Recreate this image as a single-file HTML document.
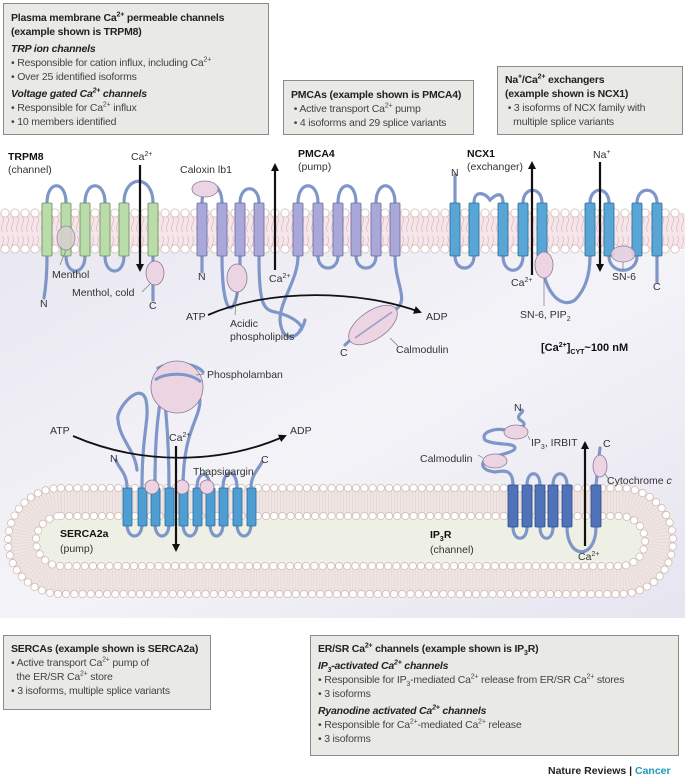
<!DOCTYPE html>
<html><head><meta charset="utf-8"><style>
body{margin:0;width:685px;height:780px;position:relative;background:#fff;font-family:"Liberation Sans",sans-serif;overflow:hidden}
.box{position:absolute;background:#e9e9e5;border:1px solid #8a8a8a;box-sizing:border-box;padding:6px 7px;font-size:10.5px;letter-spacing:-0.2px;line-height:14px;color:#444;white-space:nowrap;overflow:hidden}
.box b{color:#222}
.box .h{font-weight:bold;font-style:italic;color:#222;margin-top:3px}
svg{position:absolute;left:0;top:0}
sup{font-size:7px;line-height:0}
sub{font-size:7px;line-height:0}
</style></head><body>
<svg width="685" height="780" viewBox="0 0 685 780" font-family="Liberation Sans, sans-serif" font-size="10.5" fill="#333">
<defs>
<linearGradient id="cyt" x1="0" y1="0" x2="1" y2="1"><stop offset="0" stop-color="#e9e8f1"/><stop offset="0.5" stop-color="#f4f3f8"/><stop offset="1" stop-color="#e6e5f0"/></linearGradient>
<pattern id="tails" width="5" height="36" patternUnits="userSpaceOnUse"><rect width="5" height="36" fill="#f5e6ea"/><path d="M2.5,0 q2,4 0,8 q-2,4 0,8 M2.5,20 q2,4 0,8 q-2,4 0,8" stroke="#e3b9c6" stroke-width="0.8" fill="none"/></pattern>
<marker id="ah" markerWidth="8" markerHeight="8" refX="6" refY="4" orient="auto" markerUnits="userSpaceOnUse"><path d="M0,0 L8,4 L0,8 z" fill="#111"/></marker>
</defs>
<rect x="0" y="250" width="685" height="368" fill="url(#cyt)"/>
<rect x="0" y="213" width="685" height="36" fill="url(#tails)"/>
<line x1="5" y1="213" x2="685" y2="213" stroke="#cdb5ac" stroke-width="9" stroke-linecap="round" stroke-dasharray="0 10"/>
<line x1="5" y1="213" x2="685" y2="213" stroke="#fff" stroke-width="7.6" stroke-linecap="round" stroke-dasharray="0 10"/>
<line x1="5" y1="249" x2="685" y2="249" stroke="#cdb5ac" stroke-width="9" stroke-linecap="round" stroke-dasharray="0 10"/>
<line x1="5" y1="249" x2="685" y2="249" stroke="#fff" stroke-width="7.6" stroke-linecap="round" stroke-dasharray="0 10"/>
<rect x="22" y="502" width="637" height="78" rx="39" fill="none" stroke="#efe6e4" stroke-width="28"/>
<rect x="22" y="502" width="637" height="78" rx="39" fill="none" stroke="#e2d2d0" stroke-width="28" stroke-dasharray="1 2" opacity="0.6"/>
<rect x="36" y="516" width="609" height="50" rx="25" fill="#eef0e6"/>
<rect x="8" y="488" width="665" height="106" rx="53" fill="none" stroke="#cdb5ac" stroke-width="8" stroke-dasharray="0 8.2" stroke-linecap="round"/>
<rect x="8" y="488" width="665" height="106" rx="53" fill="none" stroke="#fff" stroke-width="6.6" stroke-dasharray="0 8.2" stroke-linecap="round"/>
<rect x="36" y="516" width="609" height="50" rx="25" fill="none" stroke="#cdb5ac" stroke-width="8" stroke-dasharray="0 8.2" stroke-linecap="round"/>
<rect x="36" y="516" width="609" height="50" rx="25" fill="none" stroke="#fff" stroke-width="6.6" stroke-dasharray="0 8.2" stroke-linecap="round"/>

<g fill="none" stroke="#7e96c8" stroke-width="3.2" stroke-linecap="round">
<path d="M44,298 Q47,280 47,256 M47,203 C47,180 66,180 66,203 M66,256 C66,276 85,276 85,256 M85,203 C85,180 105,180 105,203 M105,256 C105,276 124,276 124,256 M124,203 C124,174 153,174 153,203 M153,256 L153,300"/>
<path d="M202,256 L202,272 M202,203 C202,178 222,180 222,203 M222,256 C222,330 240,320 240,256 M240,203 C240,184 259,184 259,203 M259,256 C259,300 262,310 275,312 C300,318 305,330 300,330 M298,256 C298,280 280,300 280,320 C282,345 300,340 305,320 M298,203 C298,180 318,180 318,203 M318,256 C318,272 338,272 338,256 M338,203 C338,180 356,180 356,203 M356,256 C356,272 376,272 376,256 M376,203 C376,180 395,180 395,203 M395,256 C395,285 410,300 395,310 C380,320 360,330 345,345"/>
<path d="M455,203 L455,175 M455,256 C455,272 474,272 474,256 M474,203 C474,190 485,192 490,200 C495,195 503,190 503,203 M503,256 C503,275 523,275 523,256 M523,203 C523,186 542,186 542,203 M542,256 C542,290 560,310 575,300 C585,290 590,275 590,256 M590,203 C590,186 609,186 609,203 M609,256 C609,275 637,275 637,256 M637,203 C637,186 657,186 657,203 M657,256 L657,282"/>
<path d="M127,488 C127,472 118,468 116,460 M127,524 C127,540 142,540 142,524 M142,488 C142,430 150,420 146,400 C140,380 115,410 118,420 C120,440 135,450 137,470 M155,488 L155,470 M155,488 C155,420 160,410 160,400 M155,524 C155,540 169,540 169,524 M169,488 C169,430 165,410 165,400 M183,488 C183,430 200,420 200,400 M183,524 C183,540 197,540 197,524 M197,488 C197,470 210,470 210,488 M210,524 C210,540 223,540 223,524 M223,488 C223,468 237,468 237,488 M237,524 C237,540 251,540 251,524 M251,488 C251,475 258,470 262,462"/>
<path d="M158,368 C170,362 195,362 203,372" />
<path d="M513,485 C513,470 505,470 495,472 C480,470 480,462 488,458 C500,455 515,452 515,448 C515,442 495,446 485,440 C480,432 495,428 505,430 C520,430 530,425 520,420 C515,415 525,412 522,410 M513,527 C513,542 527,542 527,527 M527,485 C527,470 540,470 540,485 M540,527 C540,542 553,542 553,527 M553,485 C553,470 567,470 567,485 M567,527 C567,560 596,560 596,527 M596,485 L600,448"/>
</g>
<g fill="#ecd4e2" stroke="#8a7a9a" stroke-width="0.8">
<ellipse cx="155" cy="273" rx="9" ry="12"/>
<ellipse cx="205" cy="189" rx="13" ry="8"/>
<ellipse cx="237" cy="278" rx="10" ry="14"/>
<ellipse cx="373" cy="325" rx="28" ry="14" transform="rotate(-35 373 325)"/>
<circle cx="177" cy="387" r="26"/>
<ellipse cx="516" cy="432" rx="12" ry="7"/>
<ellipse cx="495" cy="461" rx="12" ry="7"/>
<ellipse cx="600" cy="466" rx="7" ry="11"/>
</g>
<path d="M155,380 C165,372 190,372 201,382" stroke="#7e96c8" stroke-width="3" fill="none"/>
<path d="M355,338 L392,312" stroke="#9c9ac8" stroke-width="1.5"/>
<g stroke="#6a8c5a" stroke-width="0.8" fill="#b9dcaa">
<rect x="42" y="203" width="10" height="53" rx="1"/><rect x="61" y="203" width="10" height="53" rx="1"/><rect x="80" y="203" width="10" height="53" rx="1"/><rect x="100" y="203" width="10" height="53" rx="1"/><rect x="119" y="203" width="10" height="53" rx="1"/><rect x="148" y="203" width="10" height="53" rx="1"/>
</g>
<ellipse cx="66" cy="238" rx="9" ry="12" fill="#d9cfd0" stroke="#8a7a9a" stroke-width="0.8" opacity="0.85"/>
<g stroke="#6a6a9e" stroke-width="0.8" fill="#a9a8d8">
<rect x="197" y="203" width="10" height="53" rx="1"/><rect x="217" y="203" width="10" height="53" rx="1"/><rect x="235" y="203" width="10" height="53" rx="1"/><rect x="254" y="203" width="10" height="53" rx="1"/><rect x="293" y="203" width="10" height="53" rx="1"/><rect x="313" y="203" width="10" height="53" rx="1"/><rect x="333" y="203" width="10" height="53" rx="1"/><rect x="351" y="203" width="10" height="53" rx="1"/><rect x="371" y="203" width="10" height="53" rx="1"/><rect x="390" y="203" width="10" height="53" rx="1"/>
</g>
<g stroke="#2f6a98" stroke-width="0.8" fill="#58a6d6">
<rect x="450" y="203" width="10" height="53" rx="1"/><rect x="469" y="203" width="10" height="53" rx="1"/><rect x="498" y="203" width="10" height="53" rx="1"/><rect x="518" y="203" width="10" height="53" rx="1"/><rect x="537" y="203" width="10" height="53" rx="1"/><rect x="585" y="203" width="10" height="53" rx="1"/><rect x="604" y="203" width="10" height="53" rx="1"/><rect x="632" y="203" width="10" height="53" rx="1"/><rect x="652" y="203" width="10" height="53" rx="1"/>
</g>
<ellipse cx="544" cy="265" rx="9" ry="13" fill="#ecd4e2" stroke="#8a7a9a" stroke-width="0.8"/>
<ellipse cx="623" cy="254" rx="12" ry="8" fill="#e4d0e2" stroke="#8a7a9a" stroke-width="0.8" opacity="0.9"/>
<g stroke="#2f6a98" stroke-width="0.8" fill="#4f9ed3">
<rect x="123" y="488" width="9" height="38" rx="1"/><rect x="138" y="488" width="9" height="38" rx="1"/><rect x="151" y="488" width="9" height="38" rx="1"/><rect x="165" y="488" width="9" height="38" rx="1"/><rect x="179" y="488" width="9" height="38" rx="1"/><rect x="193" y="488" width="9" height="38" rx="1"/><rect x="206" y="488" width="9" height="38" rx="1"/><rect x="219" y="488" width="9" height="38" rx="1"/><rect x="233" y="488" width="9" height="38" rx="1"/><rect x="247" y="488" width="9" height="38" rx="1"/>
</g>
<g fill="#ecd4e2" stroke="#8a7a9a" stroke-width="0.8"><circle cx="152" cy="487" r="7"/><circle cx="182" cy="487" r="7"/><circle cx="207" cy="487" r="7"/></g>
<g stroke="#2a4c8a" stroke-width="0.8" fill="#4f72b8">
<rect x="508" y="485" width="10" height="42" rx="1"/><rect x="522" y="485" width="10" height="42" rx="1"/><rect x="535" y="485" width="10" height="42" rx="1"/><rect x="548" y="485" width="10" height="42" rx="1"/><rect x="562" y="485" width="10" height="42" rx="1"/><rect x="591" y="485" width="10" height="42" rx="1"/>
</g>
<g stroke="#111" stroke-width="2.2" fill="none">
<line x1="140" y1="165" x2="140" y2="270" marker-end="url(#ah)"/>
<line x1="275" y1="270" x2="275" y2="165" marker-end="url(#ah)"/>
<line x1="532" y1="275" x2="532" y2="163" marker-end="url(#ah)"/>
<line x1="600" y1="162" x2="600" y2="270" marker-end="url(#ah)"/>
<line x1="176" y1="446" x2="176" y2="550" marker-end="url(#ah)"/>
<line x1="585" y1="546" x2="585" y2="443" marker-end="url(#ah)"/>
<path d="M208,315 C270,288 360,290 420,312" stroke-width="1.8" marker-end="url(#ah)"/>
<path d="M73,436 C140,465 220,465 285,436" stroke-width="1.8" marker-end="url(#ah)"/>
</g>
<g stroke="#777" stroke-width="0.7" fill="none">
<path d="M66,250 L60,265"/><path d="M150,284 L142,292"/><path d="M237,292 L235,315"/><path d="M390,338 L398,346"/><path d="M544,278 L544,306"/><path d="M623,262 L623,270"/><path d="M196,375 L204,374"/><path d="M207,478 L205,470"/><path d="M528,436 L530,440"/><path d="M483,458 L478,455"/><path d="M605,474 L608,478"/>
</g>
<text x="8" y="160" font-weight="bold" fill="#111">TRPM8</text>
<text x="8" y="173">(channel)</text>
<text x="131" y="160">Ca<tspan font-size="7" dy="-4">2+</tspan></text>
<text x="52" y="278">Menthol</text>
<text x="72" y="296">Menthol, cold</text>
<text x="40" y="307">N</text>
<text x="149" y="309">C</text>
<text x="180" y="173">Caloxin lb1</text>
<text x="198" y="280">N</text>
<text x="298" y="157" font-weight="bold" fill="#111">PMCA4</text>
<text x="298" y="170">(pump)</text>
<text x="269" y="282">Ca<tspan font-size="7" dy="-4">2+</tspan></text>
<text x="186" y="320">ATP</text>
<text x="426" y="320">ADP</text>
<text x="230" y="327">Acidic</text>
<text x="230" y="340">phospholipids</text>
<text x="396" y="353">Calmodulin</text>
<text x="340" y="356">C</text>
<text x="467" y="157" font-weight="bold" fill="#111">NCX1</text>
<text x="467" y="170">(exchanger)</text>
<text x="451" y="176">N</text>
<text x="593" y="158">Na<tspan font-size="7" dy="-4">+</tspan></text>
<text x="511" y="286">Ca<tspan font-size="7" dy="-4">2+</tspan></text>
<text x="520" y="318">SN-6, PIP<tspan font-size="7" dy="3">2</tspan></text>
<text x="612" y="280">SN-6</text>
<text x="653" y="290">C</text>
<text x="541" y="351" font-weight="bold" fill="#111" font-size="11">[Ca<tspan font-size="7" dy="-4">2+</tspan><tspan dy="4">]</tspan><tspan font-size="7" dy="3">CYT</tspan><tspan dy="-3">~100 nM</tspan></text>
<text x="207" y="378">Phospholamban</text>
<text x="50" y="434">ATP</text>
<text x="290" y="434">ADP</text>
<text x="169" y="441">Ca<tspan font-size="7" dy="-4">2+</tspan></text>
<text x="110" y="462">N</text>
<text x="261" y="463">C</text>
<text x="193" y="475">Thapsigargin</text>
<text x="60" y="537" font-weight="bold" fill="#111">SERCA2a</text>
<text x="60" y="552">(pump)</text>
<text x="514" y="411">N</text>
<text x="531" y="446">IP<tspan font-size="7" dy="3">3</tspan><tspan dy="-3">, IRBIT</tspan></text>
<text x="420" y="462">Calmodulin</text>
<text x="603" y="447">C</text>
<text x="607" y="484">Cytochrome <tspan font-style="italic">c</tspan></text>
<text x="578" y="560">Ca<tspan font-size="7" dy="-4">2+</tspan></text>
<text x="430" y="538" font-weight="bold" fill="#111">IP<tspan font-size="7" dy="3">3</tspan><tspan dy="-3">R</tspan></text>
<text x="430" y="553">(channel)</text>
<text x="548" y="774" font-weight="bold" font-size="10.5" fill="#222">Nature Reviews | <tspan fill="#1a9bbd">Cancer</tspan></text>
</svg>

<div class="box" style="left:3px;top:3px;width:266px;height:132px;padding-top:7px">
<b>Plasma membrane Ca<sup>2+</sup> permeable channels<br>(example shown is TRPM8)</b>
<div class="h">TRP ion channels</div>
• Responsible for cation influx, including Ca<sup>2+</sup><br>• Over 25 identified isoforms
<div class="h">Voltage gated Ca<sup>2+</sup> channels</div>
• Responsible for Ca<sup>2+</sup> influx<br>• 10 members identified
</div>
<div class="box" style="left:283px;top:80px;width:191px;height:55px;padding-top:7px">
<b>PMCAs (example shown is PMCA4)</b><br>&nbsp;• Active transport Ca<sup>2+</sup> pump<br>&nbsp;• 4 isoforms and 29 splice variants
</div>
<div class="box" style="left:497px;top:66px;width:186px;height:69px">
<b>Na<sup>+</sup>/Ca<sup>2+</sup> exchangers<br>(example shown is NCX1)</b><br>&nbsp;• 3 isoforms of NCX family with<br>&nbsp;&nbsp;&nbsp;multiple splice variants
</div>
<div class="box" style="left:3px;top:635px;width:208px;height:75px">
<b>SERCAs (example shown is SERCA2a)</b><br>• Active transport Ca<sup>2+</sup> pump of<br>&nbsp;&nbsp;the ER/SR Ca<sup>2+</sup> store<br>• 3 isoforms, multiple splice variants
</div>
<div class="box" style="left:310px;top:635px;width:369px;height:121px">
<b>ER/SR Ca<sup>2+</sup> channels (example shown is IP<sub>3</sub>R)</b>
<div class="h">IP<sub>3</sub>-activated Ca<sup>2+</sup> channels</div>
• Responsible for IP<sub>3</sub>-mediated Ca<sup>2+</sup> release from ER/SR Ca<sup>2+</sup> stores<br>• 3 isoforms
<div class="h">Ryanodine activated Ca<sup>2+</sup> channels</div>
• Responsible for Ca<sup>2+</sup>-mediated Ca<sup>2+</sup> release<br>• 3 isoforms
</div>
</body></html>
